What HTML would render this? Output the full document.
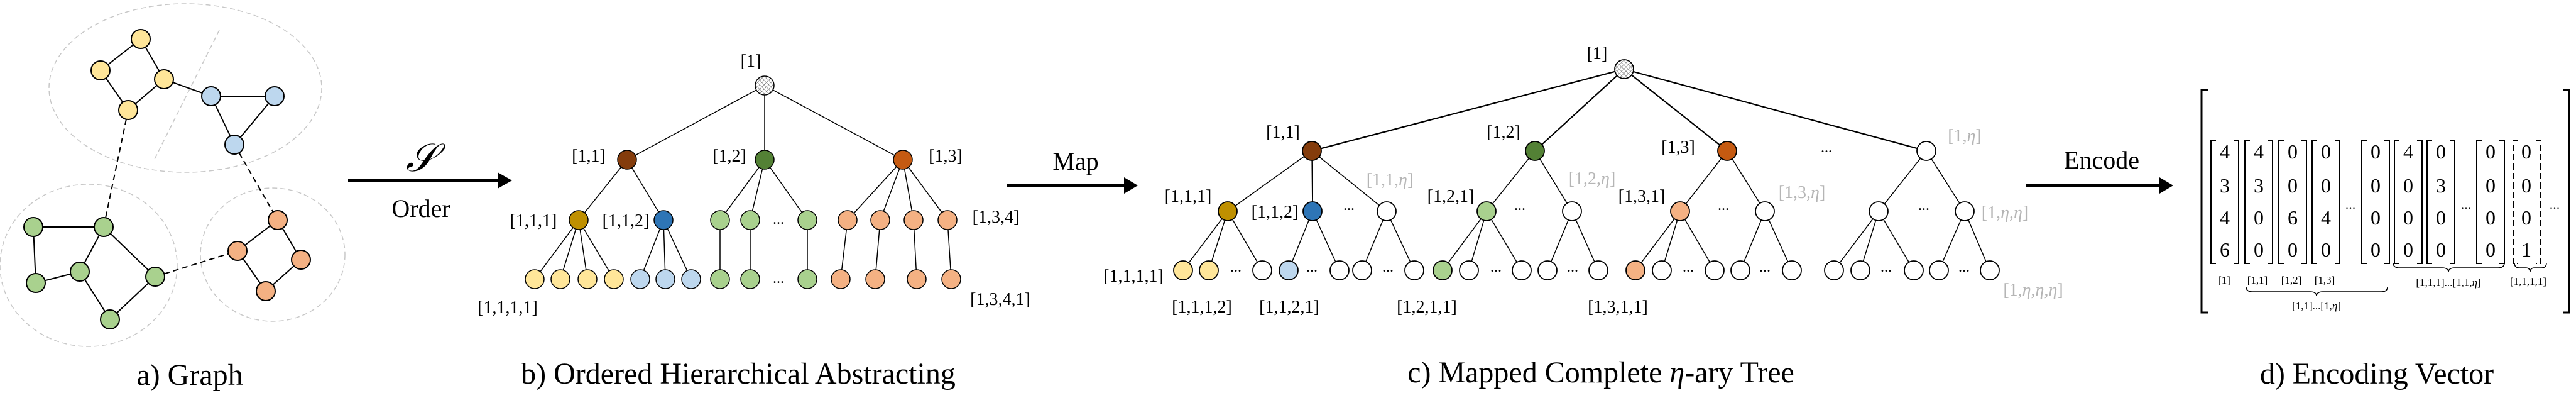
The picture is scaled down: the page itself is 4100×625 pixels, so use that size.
<!DOCTYPE html>
<html><head><meta charset="utf-8"><style>
html,body{margin:0;padding:0;background:#fff;}
svg{display:block;font-family:"Liberation Serif",serif;}
text{font-family:"Liberation Serif",serif;fill:#000;}
.g{fill:#b5b5b5;}
</style></head><body>
<svg width="4100" height="625" viewBox="0 0 4100 625" xmlns="http://www.w3.org/2000/svg" font-family="Liberation Serif, serif">
<defs>
<pattern id="hat" width="5" height="5" patternUnits="userSpaceOnUse" patternTransform="rotate(45)">
<rect width="5" height="5" fill="#fff"/><line x1="0" y1="0" x2="0" y2="5" stroke="#555" stroke-width="1"/><line x1="0" y1="0" x2="5" y2="0" stroke="#555" stroke-width="1"/></pattern>
</defs>
<g fill="none" stroke="#c8c8c8" stroke-width="1.5" stroke-dasharray="8,5">
<ellipse cx="295" cy="140" rx="217" ry="134"/>
<ellipse cx="141" cy="422" rx="141" ry="129"/>
<ellipse cx="434" cy="405" rx="115" ry="106"/>
<line x1="349" y1="48" x2="245" y2="255"/>
</g>
<g stroke="#000" stroke-width="2">
<line x1="224" y1="62" x2="160" y2="112"/><line x1="224" y1="62" x2="261" y2="126"/>
<line x1="160" y1="112" x2="204" y2="175"/><line x1="261" y1="126" x2="204" y2="175"/>
<line x1="261" y1="126" x2="336" y2="153"/>
<line x1="336" y1="153" x2="437" y2="153"/><line x1="336" y1="153" x2="373" y2="230"/><line x1="437" y1="153" x2="373" y2="230"/>
<line x1="53" y1="361" x2="165" y2="361"/><line x1="53" y1="361" x2="57" y2="450"/>
<line x1="57" y1="450" x2="127" y2="432"/><line x1="127" y1="432" x2="165" y2="361"/>
<line x1="165" y1="361" x2="247" y2="440"/><line x1="127" y1="432" x2="175" y2="508"/><line x1="175" y1="508" x2="247" y2="440"/>
<line x1="442" y1="350" x2="378" y2="399"/><line x1="442" y1="350" x2="479" y2="413"/>
<line x1="378" y1="399" x2="423" y2="463"/><line x1="479" y1="413" x2="423" y2="463"/>
</g>
<g stroke="#000" stroke-width="2" stroke-dasharray="9,6">
<line x1="204" y1="175" x2="165" y2="361"/>
<line x1="373" y1="230" x2="442" y2="350"/>
<line x1="247" y1="440" x2="378" y2="399"/>
</g>
<g stroke="#000" stroke-width="2">
<g fill="#FFE699"><circle cx="224" cy="62" r="15"/><circle cx="160" cy="112" r="15"/><circle cx="261" cy="126" r="15"/><circle cx="204" cy="175" r="15"/></g>
<g fill="#BDD7EE"><circle cx="336" cy="153" r="15"/><circle cx="437" cy="153" r="15"/><circle cx="373" cy="230" r="15"/></g>
<g fill="#A9D18E"><circle cx="53" cy="361" r="15"/><circle cx="165" cy="361" r="15"/><circle cx="127" cy="432" r="15"/><circle cx="57" cy="450" r="15"/><circle cx="247" cy="440" r="15"/><circle cx="175" cy="508" r="15"/></g>
<g fill="#F4B183"><circle cx="442" cy="350" r="15"/><circle cx="378" cy="399" r="15"/><circle cx="479" cy="413" r="15"/><circle cx="423" cy="463" r="15"/></g>
</g>
<text x="302" y="612" font-size="48" text-anchor="middle">a) Graph</text>

<line x1="554" y1="287" x2="795" y2="287" stroke="#000" stroke-width="4"/>
<polygon points="792,274 815,287 792,300" fill="#000"/>
<text x="670" y="272" font-size="62" font-style="italic" text-anchor="middle">𝒮</text>
<text x="670" y="345" font-size="40" text-anchor="middle">Order</text>

<g stroke="#000" stroke-width="1.5">
<line x1="1217" y1="136" x2="998" y2="254"/><line x1="1217" y1="136" x2="1217" y2="254"/><line x1="1217" y1="136" x2="1437" y2="254"/>
<line x1="998" y1="254" x2="921" y2="350"/><line x1="998" y1="254" x2="1056" y2="350"/>
<line x1="921" y1="350" x2="851" y2="444"/><line x1="921" y1="350" x2="892" y2="444"/><line x1="921" y1="350" x2="935" y2="444"/><line x1="921" y1="350" x2="977" y2="444"/>
<line x1="1056" y1="350" x2="1019" y2="444"/><line x1="1056" y1="350" x2="1059" y2="444"/><line x1="1056" y1="350" x2="1100" y2="444"/>
<line x1="1217" y1="254" x2="1146" y2="350"/><line x1="1217" y1="254" x2="1194" y2="350"/><line x1="1217" y1="254" x2="1285" y2="350"/>
<line x1="1146" y1="350" x2="1146" y2="444"/><line x1="1194" y1="350" x2="1194" y2="444"/><line x1="1285" y1="350" x2="1285" y2="444"/>
<line x1="1437" y1="254" x2="1349" y2="350"/><line x1="1437" y1="254" x2="1401" y2="350"/><line x1="1437" y1="254" x2="1454" y2="350"/><line x1="1437" y1="254" x2="1508" y2="350"/>
<line x1="1349" y1="350" x2="1338" y2="444"/><line x1="1401" y1="350" x2="1393" y2="444"/><line x1="1454" y1="350" x2="1459" y2="444"/><line x1="1508" y1="350" x2="1514" y2="444"/>
</g>
<g stroke="#000" stroke-width="1.5">
<circle cx="1217" cy="136" r="15" fill="url(#hat)"/>
<circle cx="998" cy="254" r="15" fill="#843C0C"/><circle cx="1217" cy="254" r="15" fill="#538135"/><circle cx="1437" cy="254" r="15" fill="#C55A11"/>
<circle cx="921" cy="350" r="15" fill="#BF9000"/><circle cx="1056" cy="350" r="15" fill="#2E75B6"/>
<g fill="#A9D18E"><circle cx="1146" cy="350" r="15"/><circle cx="1194" cy="350" r="15"/><circle cx="1285" cy="350" r="15"/><circle cx="1146" cy="444" r="15"/><circle cx="1194" cy="444" r="15"/><circle cx="1285" cy="444" r="15"/></g>
<g fill="#F4B183"><circle cx="1349" cy="350" r="15"/><circle cx="1401" cy="350" r="15"/><circle cx="1454" cy="350" r="15"/><circle cx="1508" cy="350" r="15"/><circle cx="1338" cy="444" r="15"/><circle cx="1393" cy="444" r="15"/><circle cx="1459" cy="444" r="15"/><circle cx="1514" cy="444" r="15"/></g>
<g fill="#FFE699"><circle cx="851" cy="444" r="15"/><circle cx="892" cy="444" r="15"/><circle cx="935" cy="444" r="15"/><circle cx="977" cy="444" r="15"/></g>
<g fill="#BDD7EE"><circle cx="1019" cy="444" r="15"/><circle cx="1059" cy="444" r="15"/><circle cx="1100" cy="444" r="15"/></g>
</g>
<g font-size="28" text-anchor="middle">
<text x="1195" y="106">[1]</text>
<text x="937" y="257">[1,1]</text><text x="1161" y="257">[1,2]</text><text x="1505" y="257">[1,3]</text>
<text x="849" y="360">[1,1,1]</text><text x="996" y="360">[1,1,2]</text>
<text x="1585" y="354">[1,3,4]</text>
<text x="808" y="498">[1,1,1,1]</text><text x="1592" y="485">[1,3,4,1]</text>
<text x="1239" y="356" font-size="24">...</text><text x="1239" y="450" font-size="24">...</text>
</g>
<text x="1175" y="610" font-size="48" text-anchor="middle">b) Ordered Hierarchical Abstracting</text>

<line x1="1603" y1="295" x2="1792" y2="295" stroke="#000" stroke-width="4"/>
<polygon points="1789,282 1811,295 1789,308" fill="#000"/>
<text x="1712" y="270" font-size="40" text-anchor="middle">Map</text>

<g stroke="#000" stroke-width="2.2">
<line x1="2585" y1="110" x2="2088" y2="240"/><line x1="2585" y1="110" x2="2443" y2="240"/><line x1="2585" y1="110" x2="2749" y2="240"/><line x1="2585" y1="110" x2="3066" y2="240"/>
</g>
<g stroke="#000" stroke-width="1.5">
<line x1="2088" y1="240" x2="1954" y2="336"/><line x1="2088" y1="240" x2="2089" y2="336"/><line x1="2088" y1="240" x2="2207" y2="336"/>
<line x1="2443" y1="240" x2="2366" y2="336"/><line x1="2443" y1="240" x2="2502" y2="336"/>
<line x1="2749" y1="240" x2="2674" y2="336"/><line x1="2749" y1="240" x2="2809" y2="336"/>
<line x1="3066" y1="240" x2="2990" y2="336"/><line x1="3066" y1="240" x2="3127" y2="336"/>
<line x1="1954" y1="336" x2="1883" y2="430"/><line x1="1954" y1="336" x2="1924" y2="430"/><line x1="1954" y1="336" x2="2009" y2="430"/>
<line x1="2089" y1="336" x2="2051" y2="430"/><line x1="2089" y1="336" x2="2132" y2="430"/>
<line x1="2207" y1="336" x2="2168" y2="430"/><line x1="2207" y1="336" x2="2251" y2="430"/>
<line x1="2366" y1="336" x2="2296" y2="430"/><line x1="2366" y1="336" x2="2338" y2="430"/><line x1="2366" y1="336" x2="2422" y2="430"/>
<line x1="2502" y1="336" x2="2463" y2="430"/><line x1="2502" y1="336" x2="2544" y2="430"/>
<line x1="2674" y1="336" x2="2603" y2="430"/><line x1="2674" y1="336" x2="2645" y2="430"/><line x1="2674" y1="336" x2="2729" y2="430"/>
<line x1="2809" y1="336" x2="2770" y2="430"/><line x1="2809" y1="336" x2="2852" y2="430"/>
<line x1="2990" y1="336" x2="2919" y2="430"/><line x1="2990" y1="336" x2="2961" y2="430"/><line x1="2990" y1="336" x2="3046" y2="430"/>
<line x1="3127" y1="336" x2="3086" y2="430"/><line x1="3127" y1="336" x2="3167" y2="430"/>
</g>
<g stroke="#000" stroke-width="1.8" fill="#fff">
<circle cx="2585" cy="110" r="15" fill="url(#hat)"/>
<circle cx="2088" cy="240" r="15" fill="#843C0C"/><circle cx="2443" cy="240" r="15" fill="#538135"/><circle cx="2749" cy="240" r="15" fill="#C55A11"/><circle cx="3066" cy="240" r="15"/>
<circle cx="1954" cy="336" r="15" fill="#BF9000"/><circle cx="2089" cy="336" r="15" fill="#2E75B6"/><circle cx="2207" cy="336" r="15"/>
<circle cx="2366" cy="336" r="15" fill="#A9D18E"/><circle cx="2502" cy="336" r="15"/>
<circle cx="2674" cy="336" r="15" fill="#F4B183"/><circle cx="2809" cy="336" r="15"/>
<circle cx="2990" cy="336" r="15"/><circle cx="3127" cy="336" r="15"/>
<circle cx="1883" cy="430" r="15" fill="#FFE699"/><circle cx="1924" cy="430" r="15" fill="#FFE699"/><circle cx="2009" cy="430" r="15"/>
<circle cx="2051" cy="430" r="15" fill="#BDD7EE"/><circle cx="2132" cy="430" r="15"/>
<circle cx="2168" cy="430" r="15"/><circle cx="2251" cy="430" r="15"/>
<circle cx="2296" cy="430" r="15" fill="#A9D18E"/><circle cx="2338" cy="430" r="15"/><circle cx="2422" cy="430" r="15"/>
<circle cx="2463" cy="430" r="15"/><circle cx="2544" cy="430" r="15"/>
<circle cx="2603" cy="430" r="15" fill="#F4B183"/><circle cx="2645" cy="430" r="15"/><circle cx="2729" cy="430" r="15"/>
<circle cx="2770" cy="430" r="15"/><circle cx="2852" cy="430" r="15"/>
<circle cx="2919" cy="430" r="15"/><circle cx="2961" cy="430" r="15"/><circle cx="3046" cy="430" r="15"/>
<circle cx="3086" cy="430" r="15"/><circle cx="3167" cy="430" r="15"/>
</g>
<g font-size="24" text-anchor="middle">
<text x="2907" y="242">...</text>
<text x="2147" y="334">...</text><text x="2419" y="334">...</text><text x="2743" y="334">...</text><text x="3062" y="334">...</text>
<text x="1967" y="432">...</text><text x="2088" y="432">...</text><text x="2209" y="432">...</text><text x="2381" y="432">...</text><text x="2503" y="432">...</text><text x="2687" y="432">...</text><text x="2809" y="432">...</text><text x="3002" y="432">...</text><text x="3126" y="432">...</text>
</g>
<g font-size="28" text-anchor="middle">
<text x="2542" y="94">[1]</text>
<text x="2042" y="219">[1,1]</text><text x="2393" y="219">[1,2]</text><text x="2671" y="243">[1,3]</text>
<text x="1891" y="321">[1,1,1]</text><text x="2029" y="346">[1,1,2]</text><text x="2309" y="321">[1,2,1]</text><text x="2613" y="321">[1,3,1]</text>
<text x="1804" y="448">[1,1,1,1]</text>
<text x="1913" y="497">[1,1,1,2]</text><text x="2052" y="497">[1,1,2,1]</text><text x="2271" y="497">[1,2,1,1]</text><text x="2575" y="497">[1,3,1,1]</text>
</g>
<g font-size="28" text-anchor="middle" class="g">
<text class="g" x="3127" y="225">[1,<tspan font-style="italic">η</tspan>]</text>
<text class="g" x="2212" y="295">[1,1,<tspan font-style="italic">η</tspan>]</text>
<text class="g" x="2534" y="293">[1,2,<tspan font-style="italic">η</tspan>]</text>
<text class="g" x="2868" y="315">[1,3,<tspan font-style="italic">η</tspan>]</text>
<text class="g" x="3191" y="347">[1,<tspan font-style="italic">η</tspan>,<tspan font-style="italic">η</tspan>]</text>
<text class="g" x="3236" y="470">[1,<tspan font-style="italic">η</tspan>,<tspan font-style="italic">η</tspan>,<tspan font-style="italic">η</tspan>]</text>
</g>
<text x="2548" y="608" font-size="48" text-anchor="middle">c) Mapped Complete <tspan font-style="italic">η</tspan>-ary Tree</text>

<line x1="3225" y1="295" x2="3440" y2="295" stroke="#000" stroke-width="4"/>
<polygon points="3437,282 3459,295 3437,308" fill="#000"/>
<text x="3345" y="268" font-size="40" text-anchor="middle">Encode</text>

<g fill="none" stroke="#000" stroke-width="3">
<path d="M3514 143 H3504 V497 H3514"/>
<path d="M4080 143 H4089 V497 H4080"/>
</g>
<g fill="none" stroke="#000" stroke-width="2">
<path d="M3527 223 H3519 V419 H3527 M3555 223 H3563 V419 H3555"/>
<path d="M3581 223 H3573 V419 H3581 M3609 223 H3617 V419 H3609"/>
<path d="M3635 223 H3627 V419 H3635 M3663 223 H3671 V419 H3663"/>
<path d="M3688 223 H3680 V419 H3688 M3716 223 H3724 V419 H3716"/>
<path d="M3767 223 H3759 V419 H3767 M3795 223 H3803 V419 H3795"/>
<path d="M3819 223 H3811 V419 H3819 M3847 223 H3855 V419 H3847"/>
<path d="M3871 223 H3863 V419 H3871 M3899 223 H3907 V419 H3899"/>
<path d="M3950 223 H3942 V419 H3950 M3978 223 H3986 V419 H3978"/>
<path d="M4008 223 H4000 V419 H4008 M4036 223 H4044 V419 H4036" stroke-dasharray="10,5"/>
</g>
<g font-size="32" text-anchor="middle">
<text x="3541" y="252">4</text><text x="3541" y="306">3</text><text x="3541" y="357">4</text><text x="3541" y="408">6</text>
<text x="3595" y="252">4</text><text x="3595" y="306">3</text><text x="3595" y="357">0</text><text x="3595" y="408">0</text>
<text x="3649" y="252">0</text><text x="3649" y="306">0</text><text x="3649" y="357">6</text><text x="3649" y="408">0</text>
<text x="3702" y="252">0</text><text x="3702" y="306">0</text><text x="3702" y="357">4</text><text x="3702" y="408">0</text>
<text x="3781" y="252">0</text><text x="3781" y="306">0</text><text x="3781" y="357">0</text><text x="3781" y="408">0</text>
<text x="3833" y="252">4</text><text x="3833" y="306">0</text><text x="3833" y="357">0</text><text x="3833" y="408">0</text>
<text x="3885" y="252">0</text><text x="3885" y="306">3</text><text x="3885" y="357">0</text><text x="3885" y="408">0</text>
<text x="3964" y="252">0</text><text x="3964" y="306">0</text><text x="3964" y="357">0</text><text x="3964" y="408">0</text>
<text x="4021" y="252">0</text><text x="4021" y="306">0</text><text x="4021" y="357">0</text><text x="4021" y="408">1</text>
</g>
<g font-size="22" text-anchor="middle">
<text x="3741" y="332">...</text><text x="3925" y="332">...</text><text x="4066" y="332">...</text>
</g>
<g fill="none" stroke="#000" stroke-width="1.5">
<path d="M3575 456 Q3575 464 3585 464 H3677 Q3687 464 3687 471 Q3687 464 3697 464 H3790 Q3800 464 3800 456"/>
<path d="M3809 418 Q3809 426 3819 426 H3887 Q3897 426 3897 433 Q3897 426 3907 426 H3976 Q3986 426 3986 418"/>
<path d="M4002 418 Q4002 426 4010 426 H4020 Q4027 426 4027 433 Q4027 426 4034 426 H4045 Q4053 426 4053 418"/>
</g>
<g font-size="17" text-anchor="middle">
<text x="3540" y="451">[1]</text><text x="3593" y="451">[1,1]</text><text x="3647" y="451">[1,2]</text><text x="3700" y="451">[1,3]</text>
<text x="3687" y="492">[1,1]...[1,<tspan font-style="italic">η</tspan>]</text>
<text x="3897" y="455">[1,1,1]...[1,1,<tspan font-style="italic">η</tspan>]</text>
<text x="4024" y="453">[1,1,1,1]</text>
</g>
<text x="3783" y="610" font-size="48" text-anchor="middle">d) Encoding Vector</text>
</svg>
</body></html>
